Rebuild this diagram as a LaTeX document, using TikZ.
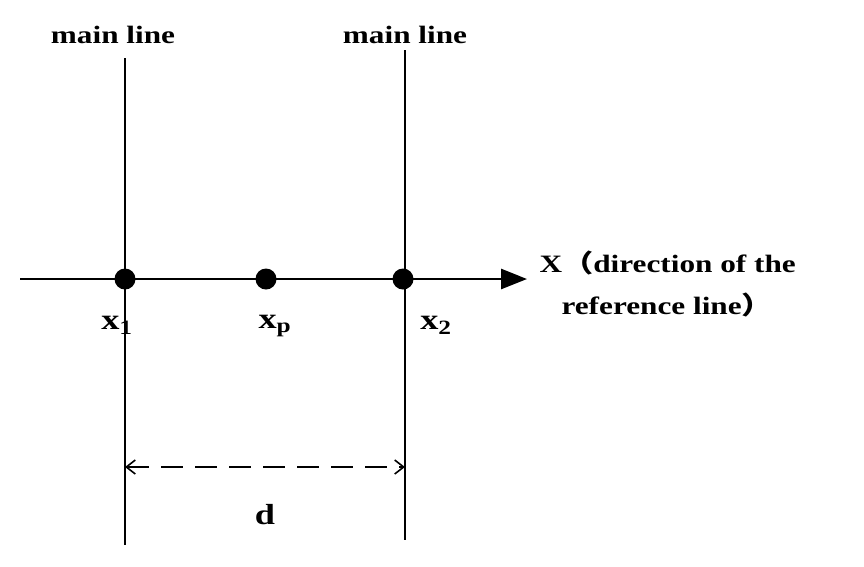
\documentclass[tikz,border=0pt]{standalone}
\usepackage{fontspec}
\setmainfont{Liberation Serif}
\newfontfamily\cjk{Noto Sans CJK SC}
\usetikzlibrary{arrows.meta}
\newcommand{\wide}[1]{\scalebox{1.25}[1]{#1}}
\begin{document}
\begin{tikzpicture}[x=1pt,y=-1pt,
  lbl/.style={font=\fontsize{25}{28}\selectfont\bfseries},
  big/.style={font=\fontsize{29}{32}\selectfont\bfseries},
  dot/.style={circle,fill=black,inner sep=0pt,minimum size=21pt},
  ln/.style={line width=2.8pt}]
\useasboundingbox (0,0) rectangle (864,566);
\coordinate (l1t) at (125,58); \coordinate (l1b) at (125,545);
\coordinate (l2t) at (405,50); \coordinate (l2b) at (405,540);
\coordinate (ax0) at (20,279); \coordinate (ax1) at (527,279);
\draw[ln] (l1t) -- (l1b);
\draw[ln] (l2t) -- (l2b);
\draw[ln,-{Triangle[length=26pt,width=20pt]}] (ax0) -- (ax1);
\node[dot] (p1) at (125,279) {};
\node[dot] (pp) at (266,279) {};
\node[dot] (p2) at (403,279) {};
\node[lbl] (m1) at (113,35) {\wide{main line}};
\node[lbl] (m2) at (405,35) {\wide{main line}};
\node[big] (x1) at (117,325) {\wide{x$_{\mathbf 1}$}};
\node[big] (xp) at (275,326) {\wide{x$_{\mathbf p}$}};
\node[big] (x2) at (436,325) {\wide{x$_{\mathbf 2}$}};
\node[lbl,anchor=west] (xt) at (536,263) {\wide{X{\cjk （}direction of the}};
\node[lbl,anchor=west] (xt2) at (558,305) {\wide{reference line{\cjk ）}}};
\coordinate (d1) at (125,467); \coordinate (d2) at (405,467);
\draw[line width=1.6pt,dash pattern=on 22pt off 12pt,{Straight Barb[length=9pt,width=14pt]}-{Straight Barb[length=9pt,width=14pt]}] (d1) -- (d2);
\node[big] (d) at (265,515) {\wide{d}};
\end{tikzpicture}
\end{document}
